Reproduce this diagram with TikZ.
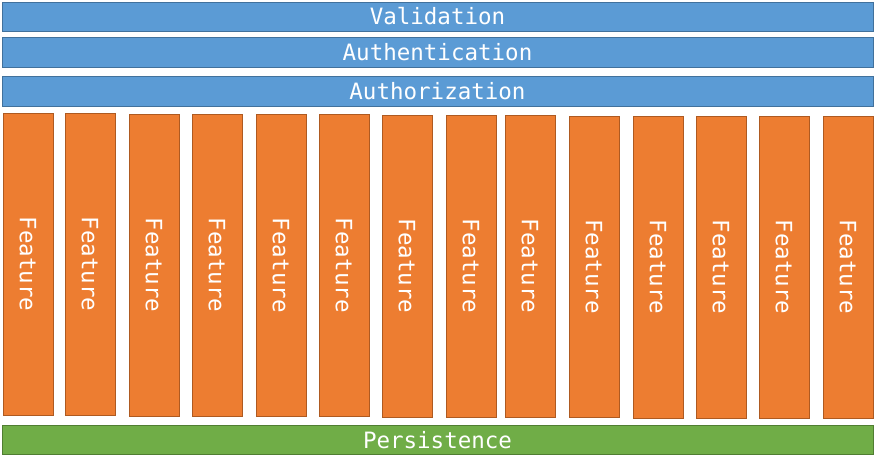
\documentclass[tikz,border=0pt]{standalone}
\usepackage{fontspec}
\setmonofont{DejaVu Sans Mono}
\definecolor{barblue}{HTML}{5B9BD5}
\definecolor{barblueline}{HTML}{41719C}
\definecolor{barorange}{HTML}{ED7D31}
\definecolor{barorangeline}{HTML}{AE5A21}
\definecolor{bargreen}{HTML}{70AD47}
\definecolor{bargreenline}{HTML}{507E32}
\tikzset{
  layer/.style={draw=barblueline, fill=barblue, line width=0.8pt, inner sep=0pt, outer sep=0pt,
    text=white, font=\fontsize{22.5}{22.5}\selectfont\ttfamily, minimum width=871pt},
  persist/.style={layer, draw=bargreenline, fill=bargreen},
  featbox/.style={draw=barorangeline, fill=barorange, line width=0.8pt, inner sep=0pt, outer sep=0pt,
    minimum width=50pt},
  feattext/.style={text=white, font=\fontsize{22.5}{22.5}\selectfont\ttfamily, rotate=-90, inner sep=0pt}
}
\begin{document}
\begin{tikzpicture}[x=1pt,y=-1pt]
\useasboundingbox (0,0) rectangle (876,458);
\node[layer, minimum height=29pt] (val) at (437.5,16.5) {Validation};
\node[layer, minimum height=30pt] (authn) at (437.5,52) {Authentication};
\node[layer, minimum height=30pt] (authz) at (437.5,91.5) {Authorization};
\node[persist, minimum height=29pt] (pers) at (437.5,440) {Persistence};
\foreach \i/\xl/\yt/\yb in {1/3/113/415,2/65/113/415,3/129/114/416,4/192/114/416,5/256/114.5/416,6/319/114.5/416,7/382/115/417,8/446/115/417,9/505/115/417,10/569/116/417,11/633/116/418,12/696/116/418,13/759/116/418,14/823/116/418}{
  \node[featbox, minimum height={\yb-\yt}] (f\i) at ({\xl+25},{(\yt+\yb)/2}) {};
  \node[feattext] (ft\i) at (f\i.center) {Feature};
}
\end{tikzpicture}
\end{document}
